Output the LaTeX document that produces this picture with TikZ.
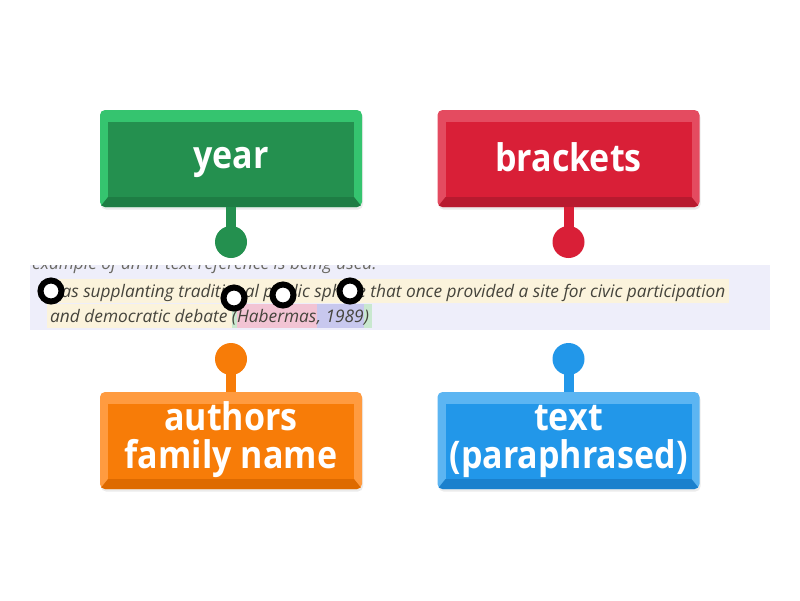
\documentclass[tikz,border=0pt]{standalone}
\usepackage{graphicx}
\usepackage{fontspec}
\setmainfont{Open Sans}
\definecolor{stripbg}{HTML}{EEEEFA}
\definecolor{hlyellow}{HTML}{FBF3DC}
\definecolor{hlgreen}{HTML}{C9E8CF}
\definecolor{hlpink}{HTML}{F2C4D4}
\definecolor{hlblue}{HTML}{C8C8EE}
\definecolor{txtgray}{HTML}{45443C}
\definecolor{gLight}{HTML}{35C46F}
\definecolor{gFace}{HTML}{24904F}
\definecolor{gDark}{HTML}{1E7D44}
\definecolor{rLight}{HTML}{E44B60}
\definecolor{rFace}{HTML}{D91F37}
\definecolor{rDark}{HTML}{B81A2F}
\definecolor{oLight}{HTML}{FF9B40}
\definecolor{oFace}{HTML}{F77C08}
\definecolor{oDark}{HTML}{DE6A00}
\definecolor{bLight}{HTML}{5CB5F2}
\definecolor{bFace}{HTML}{2297E9}
\definecolor{bDark}{HTML}{1A80CD}
\pgfdeclarelayer{back}
\pgfdeclarelayer{hl}
\pgfsetlayers{back,hl,main}
\newcommand{\tallt}[1]{\scalebox{1}[1.12]{#1}}
% box frame: name, cx, cy, light, face, dark
\newcommand{\aframe}[6]{%
  \begin{scope}[shift={(#2,#3)}]
    \fill[black,opacity=0.08,rounded corners=5pt] (-130,-46) rectangle (132,51);
    \fill[#4,rounded corners=5pt] (-131,-48.5) rectangle (131,48.5);
    \begin{scope}
      \clip[rounded corners=5pt] (-131,-48.5) rectangle (131,48.5);
      \fill[#6] (-123,38.5) -- (123,38.5) -- (131,48.5) -- (-131,48.5) -- cycle;
    \end{scope}
    \fill[#5] (-123,-36.5) rectangle (123,38.5);
    \node[boxshape] (#1) at (0,0) {};
  \end{scope}}
\tikzset{
  boxshape/.style={minimum width=262pt,minimum height=97pt,inner sep=0pt},
  boxtext/.style={inner sep=0pt,anchor=base,text=white,font=\fontsize{34}{38}\selectfont\bfseries},
  dot/.style={circle,fill=#1,minimum size=32pt,inner sep=0pt},
  stem/.style={line width=10pt,draw=#1},
  ring/.style={circle,draw=black,line width=6pt,fill=white,minimum size=21pt,inner sep=0pt},
  src/.style={inner sep=0pt,anchor=base west,text=txtgray,font=\fontsize{17.3}{20}\selectfont\itshape},
}
\begin{document}
\begin{tikzpicture}[x=1pt,y=-1pt]
\useasboundingbox (0,0) rectangle (800,600);

% background and source strip
\begin{pgfonlayer}{back}
\fill[white] (0,0) rectangle (800,600);
\fill[stripbg] (30,265) rectangle (770,330);
\begin{scope}
\clip (30,265) rectangle (770,330);
\node[src,text=txtgray!80] at (32,269.5) {example of an in-text reference is being used:};
\end{scope}
\end{pgfonlayer}

\node[src] (l1) at (49,297) {was supplanting traditional public sphere that once provided a site for civic participation};
\node[src] (l2a) at (50,322) {and democratic debate\kern4pt};
\node[src] (l2b) at (l2a.base east) {(};
\node[src] (l2c) at (l2b.base east) {Habermas};
\node[src] (l2d) at (l2c.base east) {, 1989};
\node[src] (l2e) at (l2d.base east) {)};

\begin{pgfonlayer}{hl}
\fill[hlyellow] (47,279) rectangle ([xshift=3pt]l1.east |- 0,303);
\fill[hlyellow] (47,304) rectangle (l2b.west |- 0,328);
\fill[hlgreen] (l2b.west |- 0,304) rectangle (l2c.west |- 0,328);
\fill[hlpink] (l2c.west |- 0,304) rectangle (l2d.west |- 0,328);
\fill[hlblue] (l2d.west |- 0,304) rectangle (l2e.west |- 0,328);
\fill[hlgreen] (l2e.west |- 0,304) rectangle ([xshift=3pt]l2e.east |- 0,328);
\end{pgfonlayer}

% drop rings
\node[ring] (r1) at (51,291) {};
\node[ring] (r2) at (234,298) {};
\node[ring] (r3) at (283,295) {};
\node[ring] (r4) at (350,291) {};

% boxes
\aframe{year}{231}{158.5}{gLight}{gFace}{gDark}
\node[boxtext] (yeart) at (231,168) {\tallt{year}};
\aframe{brackets}{568.5}{158.5}{rLight}{rFace}{rDark}
\node[boxtext] (bracketst) at (568.5,171.5) {\tallt{brackets}};
\aframe{authors}{231}{440.5}{oLight}{oFace}{oDark}
\node[boxtext] (authorst1) at (231,430) {\tallt{authors}};
\node[boxtext] (authorst2) at (231,468) {\tallt{family name}};
\aframe{textp}{568.5}{440.5}{bLight}{bFace}{bDark}
\node[boxtext] (textpt1) at (568.5,430) {\tallt{text}};
\node[boxtext] (textpt2) at (568.5,468) {\tallt{(paraphrased)}};

% connectors and dots
\node[dot=gFace] (yeardot) at (231,242) {};
\node[dot=rFace] (bracketsdot) at (568.5,242) {};
\node[dot=oFace] (authorsdot) at (231,359) {};
\node[dot=bFace] (textpdot) at (568.5,359) {};
\draw[stem=gFace] (year.south) -- (yeardot.center);
\draw[stem=rFace] (brackets.south) -- (bracketsdot.center);
\draw[stem=oFace] (authors.north) -- (authorsdot.center);
\draw[stem=bFace] (textp.north) -- (textpdot.center);
\end{tikzpicture}
\end{document}
